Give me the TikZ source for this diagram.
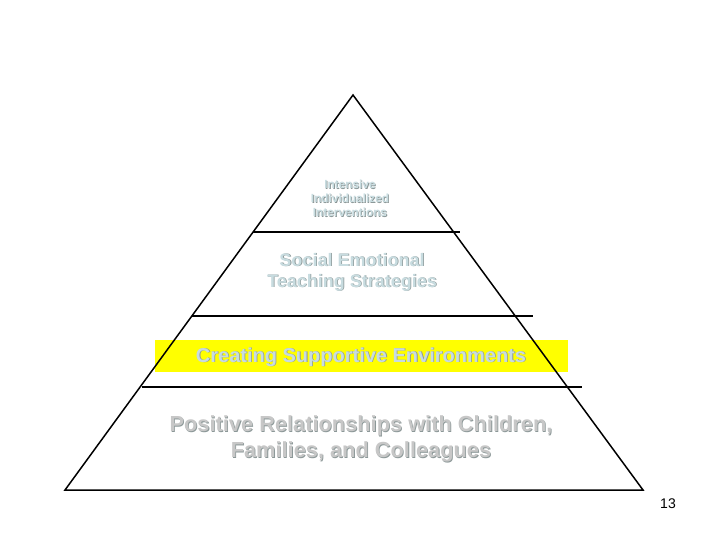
\documentclass[tikz,border=0pt]{standalone}
\usepackage{fontspec}
\setmainfont{Liberation Sans}
\definecolor{pale}{HTML}{C8DCE0}
\definecolor{shade}{HTML}{8C9898}
\definecolor{yel}{HTML}{FFFF00}
\begin{document}
\begin{tikzpicture}[x=1pt,y=-1pt,
  edge/.style={line width=1.5pt,black},
  lbl/.style={align=center,text=pale,inner sep=0pt},
  sh/.style={align=center,text=shade,inner sep=0pt}]
\useasboundingbox (0,0) rectangle (720,540);
\fill[yel] (155,340) rectangle (568,372);
\coordinate (apex) at (353,95);
\coordinate (bl) at (65,490);
\coordinate (br) at (643,490);
\draw[edge] (bl) -- (apex) -- (br) -- cycle;
\coordinate (l1a) at (253,232); \coordinate (l1b) at (460,232);
\coordinate (l2a) at (192,316); \coordinate (l2b) at (533,316);
\coordinate (l3a) at (142,387); \coordinate (l3b) at (582,387);
\draw[edge] (l1a) -- (l1b);
\draw[edge] (l2a) -- (l2b);
\draw[edge] (l3a) -- (l3b);
\newcommand{\slabel}[5]{%
  \node[sh,font=\bfseries\fontsize{#2}{#3}\selectfont] at ([xshift=0.8pt,yshift=-0.8pt]#1) {#4};
  \node[lbl,font=\bfseries\fontsize{#2}{#3}\selectfont,#5] at (#1) {#4};}
\coordinate (p1) at (350,198);
\coordinate (p2) at (352,272);
\coordinate (p3) at (361,357);
\coordinate (p4) at (361,439);
\slabel{p1}{11.8}{14}{Intensive\\Individualized\\Interventions}{}
\slabel{p2}{18}{21}{Social Emotional\\Teaching Strategies}{}
\slabel{p3}{20}{22}{Creating Supportive Environments}{}
\slabel{p4}{21.8}{26}{Positive Relationships with Children,\\Families, and Colleagues}{text=black!22}
\node[font=\fontsize{14}{16}\selectfont,inner sep=0pt] (pg) at (668,504) {13};
\end{tikzpicture}
\end{document}
